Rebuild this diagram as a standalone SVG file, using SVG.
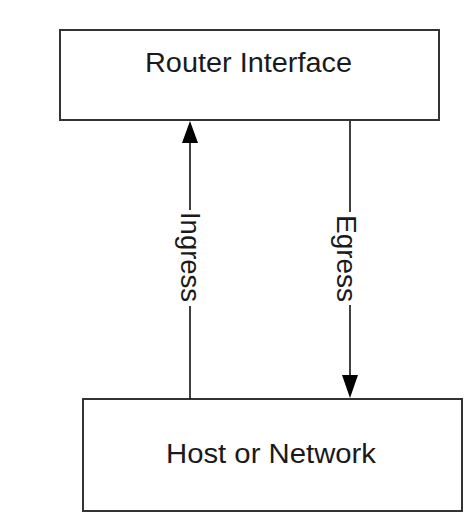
<svg xmlns="http://www.w3.org/2000/svg" width="474" height="526" viewBox="0 0 474 526">
<style>
.box{fill:#fff;stroke:#333;stroke-width:2}
.lbl{font-family:"Liberation Sans",Arial,sans-serif;font-size:27px;fill:#1a1a1a}
.ln{stroke:#111;stroke-width:1.6;fill:none}
.ah{fill:#000}
</style>
<rect width="474" height="526" fill="#fff"/>
<g id="router">
<rect class="box" x="60" y="30" width="379" height="90"/>
<text class="lbl" x="248.5" y="72" text-anchor="middle" textLength="207" lengthAdjust="spacingAndGlyphs">Router Interface</text>
</g>
<g id="host">
<rect class="box" x="83" y="399" width="379" height="112"/>
<text class="lbl" x="271" y="463" text-anchor="middle" textLength="210" lengthAdjust="spacingAndGlyphs">Host or Network</text>
</g>
<g id="connectors">
<g id="ingress">
<line class="ln" x1="190" y1="399" x2="190" y2="306"/>
<line class="ln" x1="190" y1="210" x2="190" y2="140"/>
<polygon class="ah" points="190,121 182,143 198,143"/>
<text class="lbl" transform="translate(181,212) rotate(90)" textLength="90" lengthAdjust="spacingAndGlyphs">Ingress</text>
</g>
<g id="egress">
<line class="ln" x1="350" y1="121" x2="350" y2="212"/>
<line class="ln" x1="350" y1="305" x2="350" y2="378"/>
<polygon class="ah" points="350,398 342,375 358,375"/>
<text class="lbl" transform="translate(337,215) rotate(90)" textLength="87" lengthAdjust="spacingAndGlyphs">Egress</text>
</g>
</g>
</svg>
